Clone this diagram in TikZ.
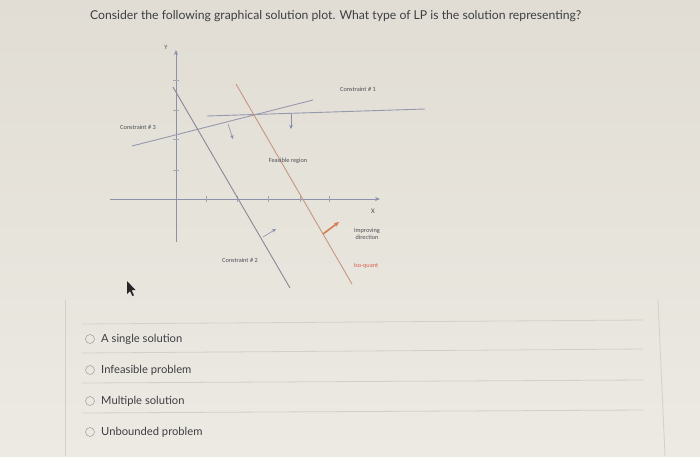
\documentclass[tikz,border=0pt]{standalone}
\usepackage{fontspec}
\setmainfont{Lato}
\newfontfamily\lblfont{Carlito}
\usetikzlibrary{arrows.meta}
\definecolor{bgtop}{RGB}{225,221,212}
\definecolor{bgbot}{RGB}{236,234,227}
\definecolor{txt}{RGB}{62,62,66}
\definecolor{axis}{RGB}{140,144,170}
\definecolor{cline}{RGB}{150,152,172}
\definecolor{c2line}{RGB}{140,134,150}
\definecolor{isoline}{RGB}{196,152,128}
\definecolor{arrblue}{RGB}{80,90,140}
\definecolor{orangearr}{RGB}{214,124,80}
\definecolor{isored}{RGB}{222,96,80}
\definecolor{sep}{RGB}{210,208,202}
\definecolor{lbl}{RGB}{80,80,86}
\tikzset{
  axisline/.style={draw=axis, line width=0.8pt},
  tick/.style={draw=axis!80, line width=0.5pt},
  cline/.style={draw=cline, line width=0.9pt},
  c2/.style={draw=c2line, line width=0.9pt},
  iso/.style={draw=isoline, line width=0.9pt},
  smallarr/.style={draw=arrblue!70, line width=0.6pt, -{Stealth[length=4pt,width=3.5pt]}},
  lab/.style={font=\lblfont\fontsize{6.3}{7}\selectfont, text=lbl, inner sep=0pt},
  opt/.style={font=\fontsize{11.2}{13}\selectfont, text=txt, anchor=west, inner sep=0pt},
  radio/.style={draw=gray!70, line width=0.6pt, circle, minimum size=9pt, inner sep=0pt},
  sepline/.style={draw=sep, line width=0.8pt}
}
\begin{document}
\begin{tikzpicture}[x=1pt,y=-1pt]
\useasboundingbox (0,0) rectangle (700,456);
\shade[top color=bgtop, bottom color=bgbot] (0,0) rectangle (700,456);
% card borders
\draw[sep, line width=0.8pt] (65,300) -- (65,456);
\draw[sep, line width=0.8pt] (658,300) -- (665,456);
% title
\node[font=\fontsize{12.2}{15}\selectfont, text=txt, anchor=west, inner sep=0pt] (title) at (90,16)
  {Consider the following graphical solution plot. What type of LP is the solution representing?};
% axes
\coordinate (yb) at (176,242);
\coordinate (yt) at (176,50);
\coordinate (xl) at (110,199);
\coordinate (xr) at (380,199);
\draw[axisline, -{Stealth[length=5pt,width=4pt]}] (yb) -- (yt);
\draw[axisline, -{Stealth[length=5pt,width=4pt]}] (xl) -- (xr);
\node[lab, font=\lblfont\fontsize{6.5}{7}\selectfont] (ylab) at (166,47) {Y};
\node[lab, font=\lblfont\fontsize{7}{7}\selectfont] (xlab) at (373,211) {X};
\foreach \t in {80,110,139,170} \draw[tick] (173,\t) -- (179,\t);
\foreach \t in {206,237,268,300,329} \draw[tick] (\t,196) -- (\t,202);
% constraint lines
\coordinate (c1a) at (207,116);
\coordinate (c1b) at (425,109);
\draw[cline] (c1a) -- (c1b);
\coordinate (c3a) at (132,146);
\coordinate (c3b) at (313,100);
\draw[cline] (c3a) -- (c3b);
\coordinate (c2a) at (173,87);
\coordinate (c2b) at (290,288);
\draw[c2] (c2a) -- (c2b);
\coordinate (isa) at (236,84);
\coordinate (isb) at (352,284);
\draw[iso] (isa) -- (isb);
% arrows
\coordinate (a1s) at (228,124); \coordinate (a1e) at (233,139);
\draw[smallarr] (a1s) -- (a1e);
\coordinate (a2s) at (291,114); \coordinate (a2e) at (291,129);
\draw[smallarr] (a2s) -- (a2e);
\coordinate (a3s) at (263,237); \coordinate (a3e) at (276,229);
\draw[smallarr] (a3s) -- (a3e);
\coordinate (a4s) at (323,234); \coordinate (a4e) at (339,222);
\draw[draw=orangearr, line width=1.6pt, -{Stealth[length=5pt,width=4.5pt]}] (a4s) -- (a4e);
% labels
\node[lab] (l1) at (358,89) {Constraint \# 1};
\node[lab] (l3) at (138,127) {Constraint \# 3};
\node[lab] (lf) at (288,161) {Feasible region};
\node[lab] (l2) at (240,260) {Constraint \# 2};
\node[lab, align=center] (li) at (367,234) {Improving\\direction};
\node[lab, text=isored] (lq) at (366,266) {Iso-quant};
% cursor
\fill[black!85] (127,281) -- (127,294) -- (130,291) -- (132.5,296) -- (134,295.3) -- (131.6,290.3) -- (135.5,290) -- cycle;
% options
\draw[sepline] (82,324) -- (643,320);
\draw[sepline] (82,353) -- (643,349);
\draw[sepline] (82,383) -- (643,380);
\draw[sepline] (82,413) -- (643,410);
\node[radio] (r1) at (90,339) {};
\node[radio] (r2) at (90,370) {};
\node[radio] (r3) at (90,401) {};
\node[radio] (r4) at (90,432) {};
\node[opt] (o1) at (101,339) {A single solution};
\node[opt] (o2) at (101,370) {Infeasible problem};
\node[opt] (o3) at (101,401) {Multiple solution};
\node[opt] (o4) at (101,432) {Unbounded problem};
\end{tikzpicture}
\end{document}
